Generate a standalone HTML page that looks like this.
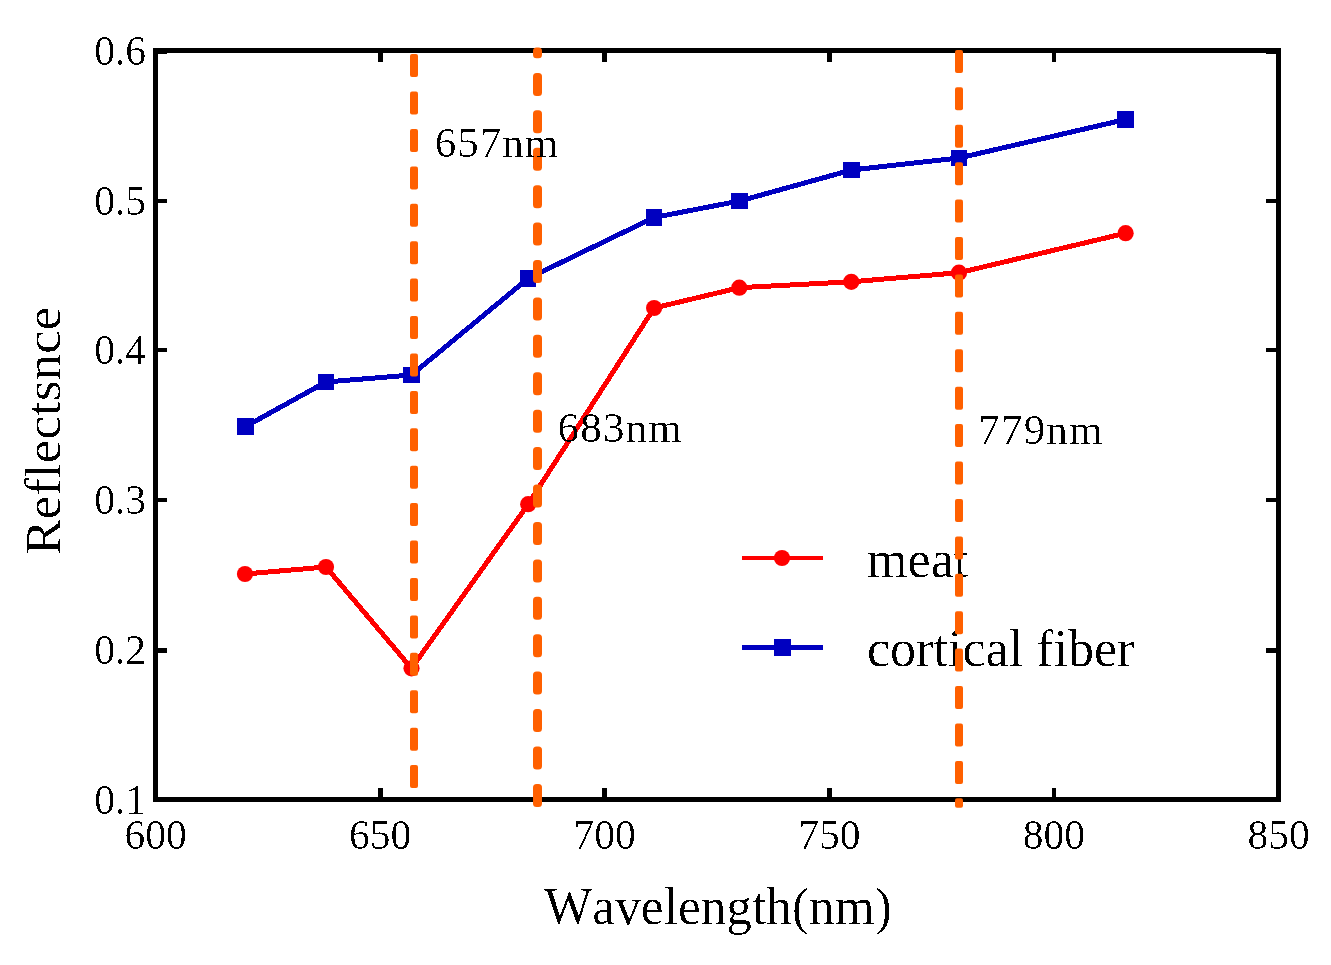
<!DOCTYPE html>
<html lang="en"><head><meta charset="utf-8"><title>Reflectance vs Wavelength</title>
<style>
html,body{margin:0;padding:0;background:#fff;}
body{width:1331px;height:965px;overflow:hidden;}
svg{display:block;}
text{font-family:"Liberation Serif","Times New Roman",Times,serif;fill:#000;font-kerning:none;font-variant-ligatures:none;font-feature-settings:"kern" 0,"liga" 0;filter:url(#crisp);}
.tk{font-size:41.5px;}
.lb{font-size:52.1px;}
.an{font-size:43px;}
</style></head><body>
<svg width="1331" height="965" viewBox="0 0 1331 965">
<defs><filter id="crisp" x="-5%" y="-20%" width="110%" height="140%" color-interpolation-filters="sRGB"><feComponentTransfer><feFuncA type="discrete" tableValues="0 0 1"/></feComponentTransfer></filter></defs>
<rect x="0" y="0" width="1331" height="965" fill="#ffffff"/>
<g shape-rendering="crispEdges">
<rect x="155.5" y="50.5" width="1123" height="749" fill="none" stroke="#000" stroke-width="5"/>
<rect x="378" y="788" width="5" height="10" fill="#000"/>
<rect x="378" y="52" width="5" height="10" fill="#000"/>
<rect x="602" y="788" width="5" height="10" fill="#000"/>
<rect x="602" y="52" width="5" height="10" fill="#000"/>
<rect x="827" y="788" width="5" height="10" fill="#000"/>
<rect x="827" y="52" width="5" height="10" fill="#000"/>
<rect x="1052" y="788" width="4" height="10" fill="#000"/>
<rect x="1052" y="52" width="4" height="10" fill="#000"/>
<rect x="157" y="50" width="10" height="4" fill="#000"/>
<rect x="1266" y="50" width="10" height="4" fill="#000"/>
<rect x="157" y="199" width="10" height="4" fill="#000"/>
<rect x="1266" y="199" width="10" height="4" fill="#000"/>
<rect x="157" y="348" width="10" height="4" fill="#000"/>
<rect x="1266" y="348" width="10" height="4" fill="#000"/>
<rect x="157" y="498" width="10" height="4" fill="#000"/>
<rect x="1266" y="498" width="10" height="4" fill="#000"/>
<rect x="157" y="648" width="10" height="5" fill="#000"/>
<rect x="1266" y="648" width="10" height="5" fill="#000"/>
</g>
<text class="tk" x="155.5" y="849" text-anchor="middle">600</text>
<text class="tk" x="380.1" y="849" text-anchor="middle">650</text>
<text class="tk" x="604.7" y="849" text-anchor="middle">700</text>
<text class="tk" x="829.3" y="849" text-anchor="middle">750</text>
<text class="tk" x="1053.9" y="849" text-anchor="middle">800</text>
<text class="tk" x="1278.5" y="849" text-anchor="middle">850</text>
<text class="tk" x="146" y="813.8" text-anchor="end">0.1</text>
<text class="tk" x="146" y="664.0" text-anchor="end">0.2</text>
<text class="tk" x="146" y="514.2" text-anchor="end">0.3</text>
<text class="tk" x="146" y="364.4" text-anchor="end">0.4</text>
<text class="tk" x="146" y="214.6" text-anchor="end">0.5</text>
<text class="tk" x="146" y="64.8" text-anchor="end">0.6</text>
<text class="lb" x="543.9" y="923.7" textLength="347.9" lengthAdjust="spacingAndGlyphs">Wavelength(nm)</text>
<text class="lb" style="font-size:50.7px" transform="translate(59.9,554.8) rotate(-90)" textLength="248.2" lengthAdjust="spacingAndGlyphs">Reflectsnce</text>
<g shape-rendering="crispEdges">
<rect x="742" y="556" width="81" height="4" fill="#ff0000"/>
<rect x="742" y="645" width="81" height="5" fill="#0000c0"/>
<rect x="774" y="639" width="17" height="17" fill="#0000c0"/>
</g>
<circle cx="782" cy="558" r="8.1" fill="#ff0000"/>
<text class="lb" x="867" y="577">meat</text>
<text class="lb" x="867" y="666">cortical fiber</text>
<polyline points="245.0,574.0 326.0,567.0 411.5,668.3 528.2,504.2 654.1,308.0 739.3,287.7 851.3,281.8 959.0,272.7 1125.6,233.2" fill="none" stroke="#ff0000" stroke-width="5" stroke-linejoin="round" shape-rendering="crispEdges"/>
<circle cx="245.0" cy="574.0" r="8.1" fill="#ff0000"/>
<circle cx="326.0" cy="567.0" r="8.1" fill="#ff0000"/>
<circle cx="411.5" cy="668.3" r="8.1" fill="#ff0000"/>
<circle cx="528.2" cy="504.2" r="8.1" fill="#ff0000"/>
<circle cx="654.1" cy="308.0" r="8.1" fill="#ff0000"/>
<circle cx="739.3" cy="287.7" r="8.1" fill="#ff0000"/>
<circle cx="851.3" cy="281.8" r="8.1" fill="#ff0000"/>
<circle cx="959.0" cy="272.7" r="8.1" fill="#ff0000"/>
<circle cx="1125.6" cy="233.2" r="8.1" fill="#ff0000"/>
<polyline points="245.5,426.5 326.0,382.0 411.5,375.0 528.0,278.5 654.0,217.5 739.5,201.0 851.5,170.0 959.0,158.0 1125.5,119.5" fill="none" stroke="#0000c0" stroke-width="5" stroke-linejoin="round" shape-rendering="crispEdges"/>
<g shape-rendering="crispEdges">
<rect x="237" y="418" width="17" height="17" fill="#0000c0"/>
<rect x="318" y="374" width="16" height="16" fill="#0000c0"/>
<rect x="403" y="367" width="17" height="16" fill="#0000c0"/>
<rect x="520" y="270" width="16" height="17" fill="#0000c0"/>
<rect x="646" y="209" width="16" height="17" fill="#0000c0"/>
<rect x="731" y="193" width="17" height="16" fill="#0000c0"/>
<rect x="843" y="162" width="17" height="16" fill="#0000c0"/>
<rect x="951" y="150" width="16" height="16" fill="#0000c0"/>
<rect x="1117" y="111" width="17" height="17" fill="#0000c0"/>
</g>
<g fill="#ff6000">
<rect x="410" y="54.1" width="8" height="23" rx="2"/>
<rect x="410" y="91.5" width="8" height="23" rx="2"/>
<rect x="410" y="128.9" width="8" height="23" rx="2"/>
<rect x="410" y="166.4" width="8" height="23" rx="2"/>
<rect x="410" y="203.8" width="8" height="23" rx="2"/>
<rect x="410" y="241.2" width="8" height="23" rx="2"/>
<rect x="410" y="278.6" width="8" height="23" rx="2"/>
<rect x="410" y="316.0" width="8" height="23" rx="2"/>
<rect x="410" y="353.5" width="8" height="23" rx="2"/>
<rect x="410" y="390.9" width="8" height="23" rx="2"/>
<rect x="410" y="428.3" width="8" height="23" rx="2"/>
<rect x="410" y="465.7" width="8" height="23" rx="2"/>
<rect x="410" y="503.1" width="8" height="23" rx="2"/>
<rect x="410" y="540.6" width="8" height="23" rx="2"/>
<rect x="410" y="578.0" width="8" height="23" rx="2"/>
<rect x="410" y="615.4" width="8" height="23" rx="2"/>
<rect x="410" y="652.8" width="8" height="23" rx="2"/>
<rect x="410" y="690.2" width="8" height="23" rx="2"/>
<rect x="410" y="727.7" width="8" height="23" rx="2"/>
<rect x="410" y="765.1" width="8" height="23" rx="2"/>
<rect x="533" y="47.6" width="9" height="10.6" rx="3.5"/>
<rect x="533" y="72.9" width="9" height="23" rx="3.5"/>
<rect x="533" y="110.3" width="9" height="23" rx="3.5"/>
<rect x="533" y="147.7" width="9" height="23" rx="3.5"/>
<rect x="533" y="185.2" width="9" height="23" rx="3.5"/>
<rect x="533" y="222.6" width="9" height="23" rx="3.5"/>
<rect x="533" y="260.0" width="9" height="23" rx="3.5"/>
<rect x="533" y="297.4" width="9" height="23" rx="3.5"/>
<rect x="533" y="334.8" width="9" height="23" rx="3.5"/>
<rect x="533" y="372.3" width="9" height="23" rx="3.5"/>
<rect x="533" y="409.7" width="9" height="23" rx="3.5"/>
<rect x="533" y="447.1" width="9" height="23" rx="3.5"/>
<rect x="533" y="484.5" width="9" height="23" rx="3.5"/>
<rect x="533" y="521.9" width="9" height="23" rx="3.5"/>
<rect x="533" y="559.4" width="9" height="23" rx="3.5"/>
<rect x="533" y="596.8" width="9" height="23" rx="3.5"/>
<rect x="533" y="634.2" width="9" height="23" rx="3.5"/>
<rect x="533" y="671.6" width="9" height="23" rx="3.5"/>
<rect x="533" y="709.0" width="9" height="23" rx="3.5"/>
<rect x="533" y="746.5" width="9" height="23" rx="3.5"/>
<rect x="533" y="783.9" width="9" height="23" rx="3.5"/>
<rect x="955" y="49.9" width="8" height="23" rx="2"/>
<rect x="955" y="87.3" width="8" height="23" rx="2"/>
<rect x="955" y="124.7" width="8" height="23" rx="2"/>
<rect x="955" y="162.2" width="8" height="23" rx="2"/>
<rect x="955" y="199.6" width="8" height="23" rx="2"/>
<rect x="955" y="237.0" width="8" height="23" rx="2"/>
<rect x="955" y="274.4" width="8" height="23" rx="2"/>
<rect x="955" y="311.8" width="8" height="23" rx="2"/>
<rect x="955" y="349.3" width="8" height="23" rx="2"/>
<rect x="955" y="386.7" width="8" height="23" rx="2"/>
<rect x="955" y="424.1" width="8" height="23" rx="2"/>
<rect x="955" y="461.5" width="8" height="23" rx="2"/>
<rect x="955" y="498.9" width="8" height="23" rx="2"/>
<rect x="955" y="536.4" width="8" height="23" rx="2"/>
<rect x="955" y="573.8" width="8" height="23" rx="2"/>
<rect x="955" y="611.2" width="8" height="23" rx="2"/>
<rect x="955" y="648.6" width="8" height="23" rx="2"/>
<rect x="955" y="686.0" width="8" height="23" rx="2"/>
<rect x="955" y="723.5" width="8" height="23" rx="2"/>
<rect x="955" y="760.9" width="8" height="23" rx="2"/>
<rect x="955" y="798.3" width="8" height="9.4" rx="2"/>
</g>
<text class="an" x="434.7" y="157" textLength="123.6" lengthAdjust="spacing">657nm</text>
<text class="an" x="557.6" y="442.2" textLength="124.2" lengthAdjust="spacing">683nm</text>
<text class="an" x="978.3" y="444" textLength="124.2" lengthAdjust="spacing">779nm</text>
</svg>
</body></html>
